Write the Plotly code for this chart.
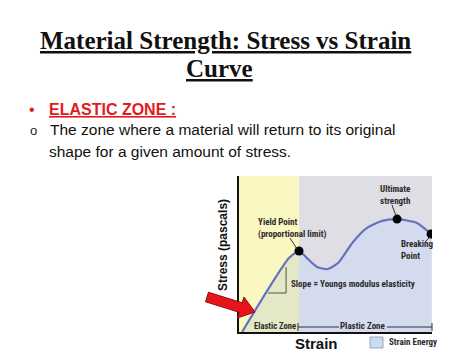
import plotly.graph_objects as go
import math

W, H = 474, 355

# ---- data (strain, stress in arbitrary units 0-100) ----
strain = [1.6, 25.9, 31.1, 35.2, 40.4, 46.1, 51.3, 59.1, 66.3, 74.1, 81.9, 92.2, 99.5]
stress = [0.0, 47.4, 51.9, 47.4, 41.7, 40.4, 44.2, 57.7, 66.7, 71.2, 72.4, 69.9, 62.8]
yield_idx = 2
ultimate_idx = 10
breaking_idx = 12
elastic_limit = 31.1

point_labels = ["Yield Point<br>(proportional limit)", "Ultimate<br>strength", "Breaking<br>Point"]

def px(x):
    return x / W

def py(y):
    return 1 - y / H

LBL = "Liberation Sans Narrow, Arial Narrow, Roboto Condensed, Liberation Sans, sans-serif"
LBLC = "#2b2b2b"

fig = go.Figure()

# fills under curve
fig.add_trace(go.Scatter(x=strain[:yield_idx + 1], y=stress[:yield_idx + 1], fill="tozeroy",
                         fillcolor="#e4e8c6", line=dict(width=0), mode="lines", hoverinfo="skip"))
fig.add_trace(go.Scatter(x=strain[yield_idx:], y=stress[yield_idx:], fill="tozeroy",
                         fillcolor="#d4dbee", line=dict(width=0), mode="lines", hoverinfo="skip"))
# curve
fig.add_trace(go.Scatter(x=strain, y=stress, mode="lines",
                         line=dict(color="#6671bd", width=2.2, shape="spline", smoothing=0.6),
                         hoverinfo="skip"))
# key points
kp = [yield_idx, ultimate_idx, breaking_idx]
fig.add_trace(go.Scatter(x=[strain[i] for i in kp], y=[stress[i] for i in kp], mode="markers",
                         marker=dict(color="black", size=9), hoverinfo="skip"))

shapes = []
# backgrounds
shapes.append(dict(type="rect", xref="x", yref="y", x0=0, x1=elastic_limit, y0=0, y1=100,
                   fillcolor="#fbf7c2", line=dict(width=0), layer="below"))
shapes.append(dict(type="rect", xref="x", yref="y", x0=elastic_limit, x1=100, y0=0, y1=100,
                   fillcolor="#dfdee4", line=dict(width=0), layer="below"))
# slope triangle
shapes.append(dict(type="line", xref="x", yref="y", x0=24.4, x1=24.4, y0=41.7, y1=25.0,
                   line=dict(color="#555", width=1)))
shapes.append(dict(type="line", xref="x", yref="y", x0=15.0, x1=24.4, y0=25.0, y1=25.0,
                   line=dict(color="#555", width=1)))

def pline(x0, y0, x1, y1, w=1, c="#333"):
    shapes.append(dict(type="line", xref="paper", yref="paper", x0=px(x0), y0=py(y0),
                       x1=px(x1), y1=py(y1), line=dict(color=c, width=w)))

# leader lines
pline(290, 238, 297, 249)
pline(392, 205, 396, 216)
pline(430, 237, 425, 242)
# plastic zone bracket
pline(298, 327, 339, 327)
pline(387, 327, 432, 327)
pline(298, 323, 298, 331)
pline(432, 323, 432, 331)

# red arrow polygon
tx, ty = 207, 297
hx, hy = 255, 312
dx, dy = hx - tx, hy - ty
L = math.hypot(dx, dy)
ux, uy = dx / L, dy / L
nx, ny = -uy, ux
sw, hw, hl = 5, 11, 15
bx, by = hx - ux * hl, hy - uy * hl
pts = [(tx + nx * sw, ty + ny * sw), (bx + nx * sw, by + ny * sw), (bx + nx * hw, by + ny * hw),
       (hx, hy), (bx - nx * hw, by - ny * hw), (bx - nx * sw, by - ny * sw), (tx - nx * sw, ty - ny * sw)]
path = "M " + " L ".join(f"{px(a):.5f},{py(b):.5f}" for a, b in pts) + " Z"
shapes.append(dict(type="path", xref="paper", yref="paper", path=path,
                   fillcolor="#e8141c", line=dict(color="#8a1010", width=1)))

# legend swatch
shapes.append(dict(type="rect", xref="paper", yref="paper", x0=px(370), x1=px(383), y0=py(348), y1=py(337),
                   fillcolor="#c8dcf3", line=dict(color="#a0a8b0", width=1)))

ann = []

def text(x, y, t, size, color="#000", family="Liberation Sans, Arial, sans-serif", xanchor="left",
         align="left", angle=0):
    ann.append(dict(x=px(x), y=py(y), xref="paper", yref="paper", text=t, showarrow=False,
                    xanchor=xanchor, yanchor="middle", align=align, textangle=angle,
                    font=dict(size=size, color=color, family=family)))

# slide text
text(225, 41, "<b><u>Material Strength: Stress vs Strain</u></b>", 25, "#111",
     "Liberation Serif, Times New Roman, serif", "center", "center")
text(219, 69, "<b><u>Curve</u></b>", 25, "#111", "Liberation Serif, Times New Roman, serif", "center", "center")
text(27, 109, "•", 16, "#e21a22")
text(47, 109, "<b><u>ELASTIC ZONE :</u></b>", 16, "#e21a22")
text(28, 131, "o", 13, "#222")
text(48, 130, "The zone where a material will return to its original", 15.5, "#111")
text(47, 151, "shape for a given amount of stress.", 15.5, "#111")

# chart labels
text(256, 228, "<b>" + point_labels[0] + "</b>", 9, LBLC, LBL)
text(395, 195, "<b>" + point_labels[1] + "</b>", 9, LBLC, LBL, "center", "center")
text(399, 250, "<b>" + point_labels[2] + "</b>", 9, LBLC, LBL)
text(289, 284, "<b>Slope = Youngs modulus elasticity</b>", 9, LBLC, LBL)
text(252, 326, "<b>Elastic Zone</b>", 8.6, LBLC, LBL)
text(363, 326, "<b>Plastic Zone</b>", 9, LBLC, LBL, "center", "center")
text(387, 342, "<b>Strain Energy</b>", 9, LBLC, LBL)
text(316, 343, "<b>Strain</b>", 15, "#111", "Liberation Sans, Arial, sans-serif", "center", "center")
text(223, 245, "<b>Stress (pascals)</b>", 12, "#111", "Liberation Sans, Arial, sans-serif", "center",
     "center", -90)

fig.update_layout(
    width=W, height=H, margin=dict(l=0, r=0, t=0, b=0),
    paper_bgcolor="white", plot_bgcolor="white", showlegend=False,
    xaxis=dict(domain=[px(239), px(432)], range=[0, 100], showgrid=False, zeroline=False,
               showticklabels=False, ticks="", showline=True, linecolor="#111", linewidth=2,
               fixedrange=True),
    yaxis=dict(domain=[py(332), py(176)], range=[0, 100], showgrid=False, zeroline=False,
               showticklabels=False, ticks="", showline=True, linecolor="#111", linewidth=2,
               fixedrange=True),
    shapes=shapes, annotations=ann,
)

fig.write_html("out.html", config=dict(displayModeBar=False))
